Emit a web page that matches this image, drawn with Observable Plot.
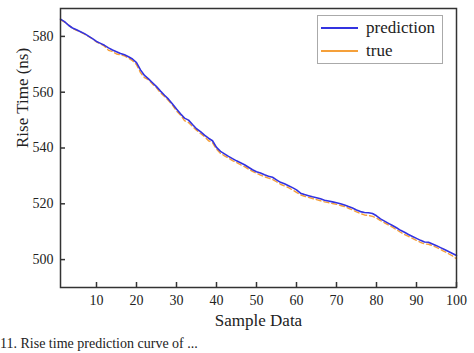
<!DOCTYPE html>
<html>
<head>
<meta charset="utf-8">
<script src="https://cdn.jsdelivr.net/npm/d3@7"></script>
<script src="https://cdn.jsdelivr.net/npm/@observablehq/plot@0.6"></script>
<style>
  html, body { margin: 0; padding: 0; background: #fff; }
  #wrap { position: relative; width: 474px; height: 353px; overflow: hidden; font-family: "Liberation Serif", "Times New Roman", serif; color: #222; }
  #legend { position: absolute; left: 317px; top: 15px; width: 124px; height: 47px; border: 1px solid #aaa; background: #fff; }
  .lg-row { position: absolute; left: 0; height: 20px; width: 124px; }
  .lg-line { position: absolute; left: 3px; top: 9px; width: 37px; height: 2px; }
  .lg-text { position: absolute; left: 48px; top: 0; font-size: 17px; line-height: 20px; }
  #caption { position: absolute; left: 0; top: 336px; font-size: 14px; line-height: 16px; white-space: nowrap; }
</style>
</head>
<body>
<div id="wrap">
  <div id="chart"></div>
  <div id="legend"></div>
  <div id="caption"></div>
</div>
<script>
const sampleIndex = d3.range(1, 101);
const prediction = [
  586.2, 585.3, 584.0, 583.0, 582.4, 581.7, 581.0, 580.1, 579.2, 578.2,
  577.5, 576.8, 575.9, 575.1, 574.5, 573.9, 573.4, 572.7, 571.9, 570.6,
  568.0, 566.0, 564.8, 563.4, 562.0, 560.4, 558.9, 557.5, 555.8, 554.0,
  552.3, 550.7, 550.0, 548.4, 546.9, 545.9, 544.6, 543.5, 542.6, 540.2,
  538.8, 537.9, 537.0, 536.2, 535.4, 534.7, 534.0, 533.1, 532.2, 531.5,
  531.0, 530.4, 529.9, 529.5, 528.6, 527.7, 527.2, 526.5, 525.8, 525.0,
  523.8, 523.3, 522.9, 522.5, 522.2, 521.8, 521.3, 521.0, 520.7, 520.4,
  520.0, 519.6, 519.0, 518.5, 517.8, 517.2, 516.9, 516.8, 516.5, 515.7,
  514.6, 513.8, 513.0, 512.2, 511.4, 510.5, 509.8, 509.0, 508.3, 507.6,
  506.9, 506.3, 506.2, 505.6, 505.0, 504.3, 503.6, 502.9, 502.2, 501.5
];
const trueValues = [
  586.0, 585.1, 584.1, 582.9, 582.2, 581.6, 580.8, 580.0, 579.1, 578.0,
  577.3, 576.5, 575.0, 574.6, 573.7, 573.4, 573.0, 572.2, 571.3, 569.9,
  567.0, 565.2, 564.4, 562.9, 561.6, 559.8, 558.5, 557.0, 555.4, 553.3,
  551.8, 549.8, 549.1, 547.7, 546.4, 545.2, 544.1, 542.6, 541.9, 539.6,
  538.1, 537.2, 536.4, 535.5, 534.8, 534.0, 533.3, 532.4, 531.6, 530.9,
  530.3, 529.7, 529.2, 528.7, 527.9, 527.0, 526.4, 525.8, 525.0, 524.1,
  523.2, 522.7, 522.3, 521.9, 521.5, 521.1, 520.7, 520.4, 520.1, 519.8,
  519.4, 519.0, 518.4, 517.8, 517.1, 516.5, 516.0, 515.8, 515.5, 514.9,
  514.0, 513.2, 512.4, 511.6, 510.7, 509.8, 509.0, 508.3, 507.6, 506.9,
  506.2, 505.6, 505.5, 505.0, 504.4, 503.6, 502.9, 502.1, 501.3, 500.3
];
const xTicks = [10, 20, 30, 40, 50, 60, 70, 80, 90, 100];
const yTicks = [500, 520, 540, 560, 580];
const xLabel = "Sample Data";
const yLabel = "Rise Time (ns)";
const seriesNames = ["prediction", "true"];
const seriesColors = ["#3333e0", "#f5a03a"];
const captionText = "11. Rise time prediction curve of ...";

const predRows = sampleIndex.map((s, i) => ({s, v: prediction[i]}));
const trueRows = sampleIndex.map((s, i) => ({s, v: trueValues[i]}));

const chart = Plot.plot({
  width: 474,
  height: 333,
  marginLeft: 60,
  marginRight: 18,
  marginTop: 8,
  marginBottom: 46,
  style: {fontFamily: '"Liberation Serif", "Times New Roman", serif', fontSize: "14px", color: "#222", background: "#fff"},
  x: {domain: [1, 100]},
  y: {domain: [490, 590]},
  marks: [
    Plot.line(trueRows, {x: "s", y: "v", stroke: seriesColors[1], strokeWidth: 1.4, strokeDasharray: "5,3"}),
    Plot.line(predRows, {x: "s", y: "v", stroke: seriesColors[0], strokeWidth: 1.6}),
    Plot.frame({stroke: "#333", strokeWidth: 1.5}),
    Plot.axisX(xTicks, {anchor: "bottom", tickSize: -5, tickPadding: 13, label: null, fontSize: 14, stroke: "#333", strokeWidth: 1.5}),
    Plot.axisY(yTicks, {anchor: "left", tickSize: -5, tickPadding: 12, label: null, fontSize: 14, stroke: "#333", strokeWidth: 1.5}),
    Plot.text([xLabel], {frameAnchor: "bottom", dy: 38, fontSize: 17, fill: "#222"}),
    Plot.text([yLabel], {frameAnchor: "left", dx: -38, rotate: -90, fontSize: 17, fill: "#222"})
  ]
});
document.getElementById("chart").appendChild(chart);

const legend = document.getElementById("legend");
seriesNames.forEach((name, i) => {
  const row = document.createElement("div");
  row.className = "lg-row";
  row.style.top = (2 + i * 23) + "px";
  const line = document.createElement("div");
  line.className = "lg-line";
  line.style.background = seriesColors[i];
  const txt = document.createElement("div");
  txt.className = "lg-text";
  txt.textContent = name;
  row.appendChild(line);
  row.appendChild(txt);
  legend.appendChild(row);
});
document.getElementById("caption").textContent = captionText;
</script>
</body>
</html>
